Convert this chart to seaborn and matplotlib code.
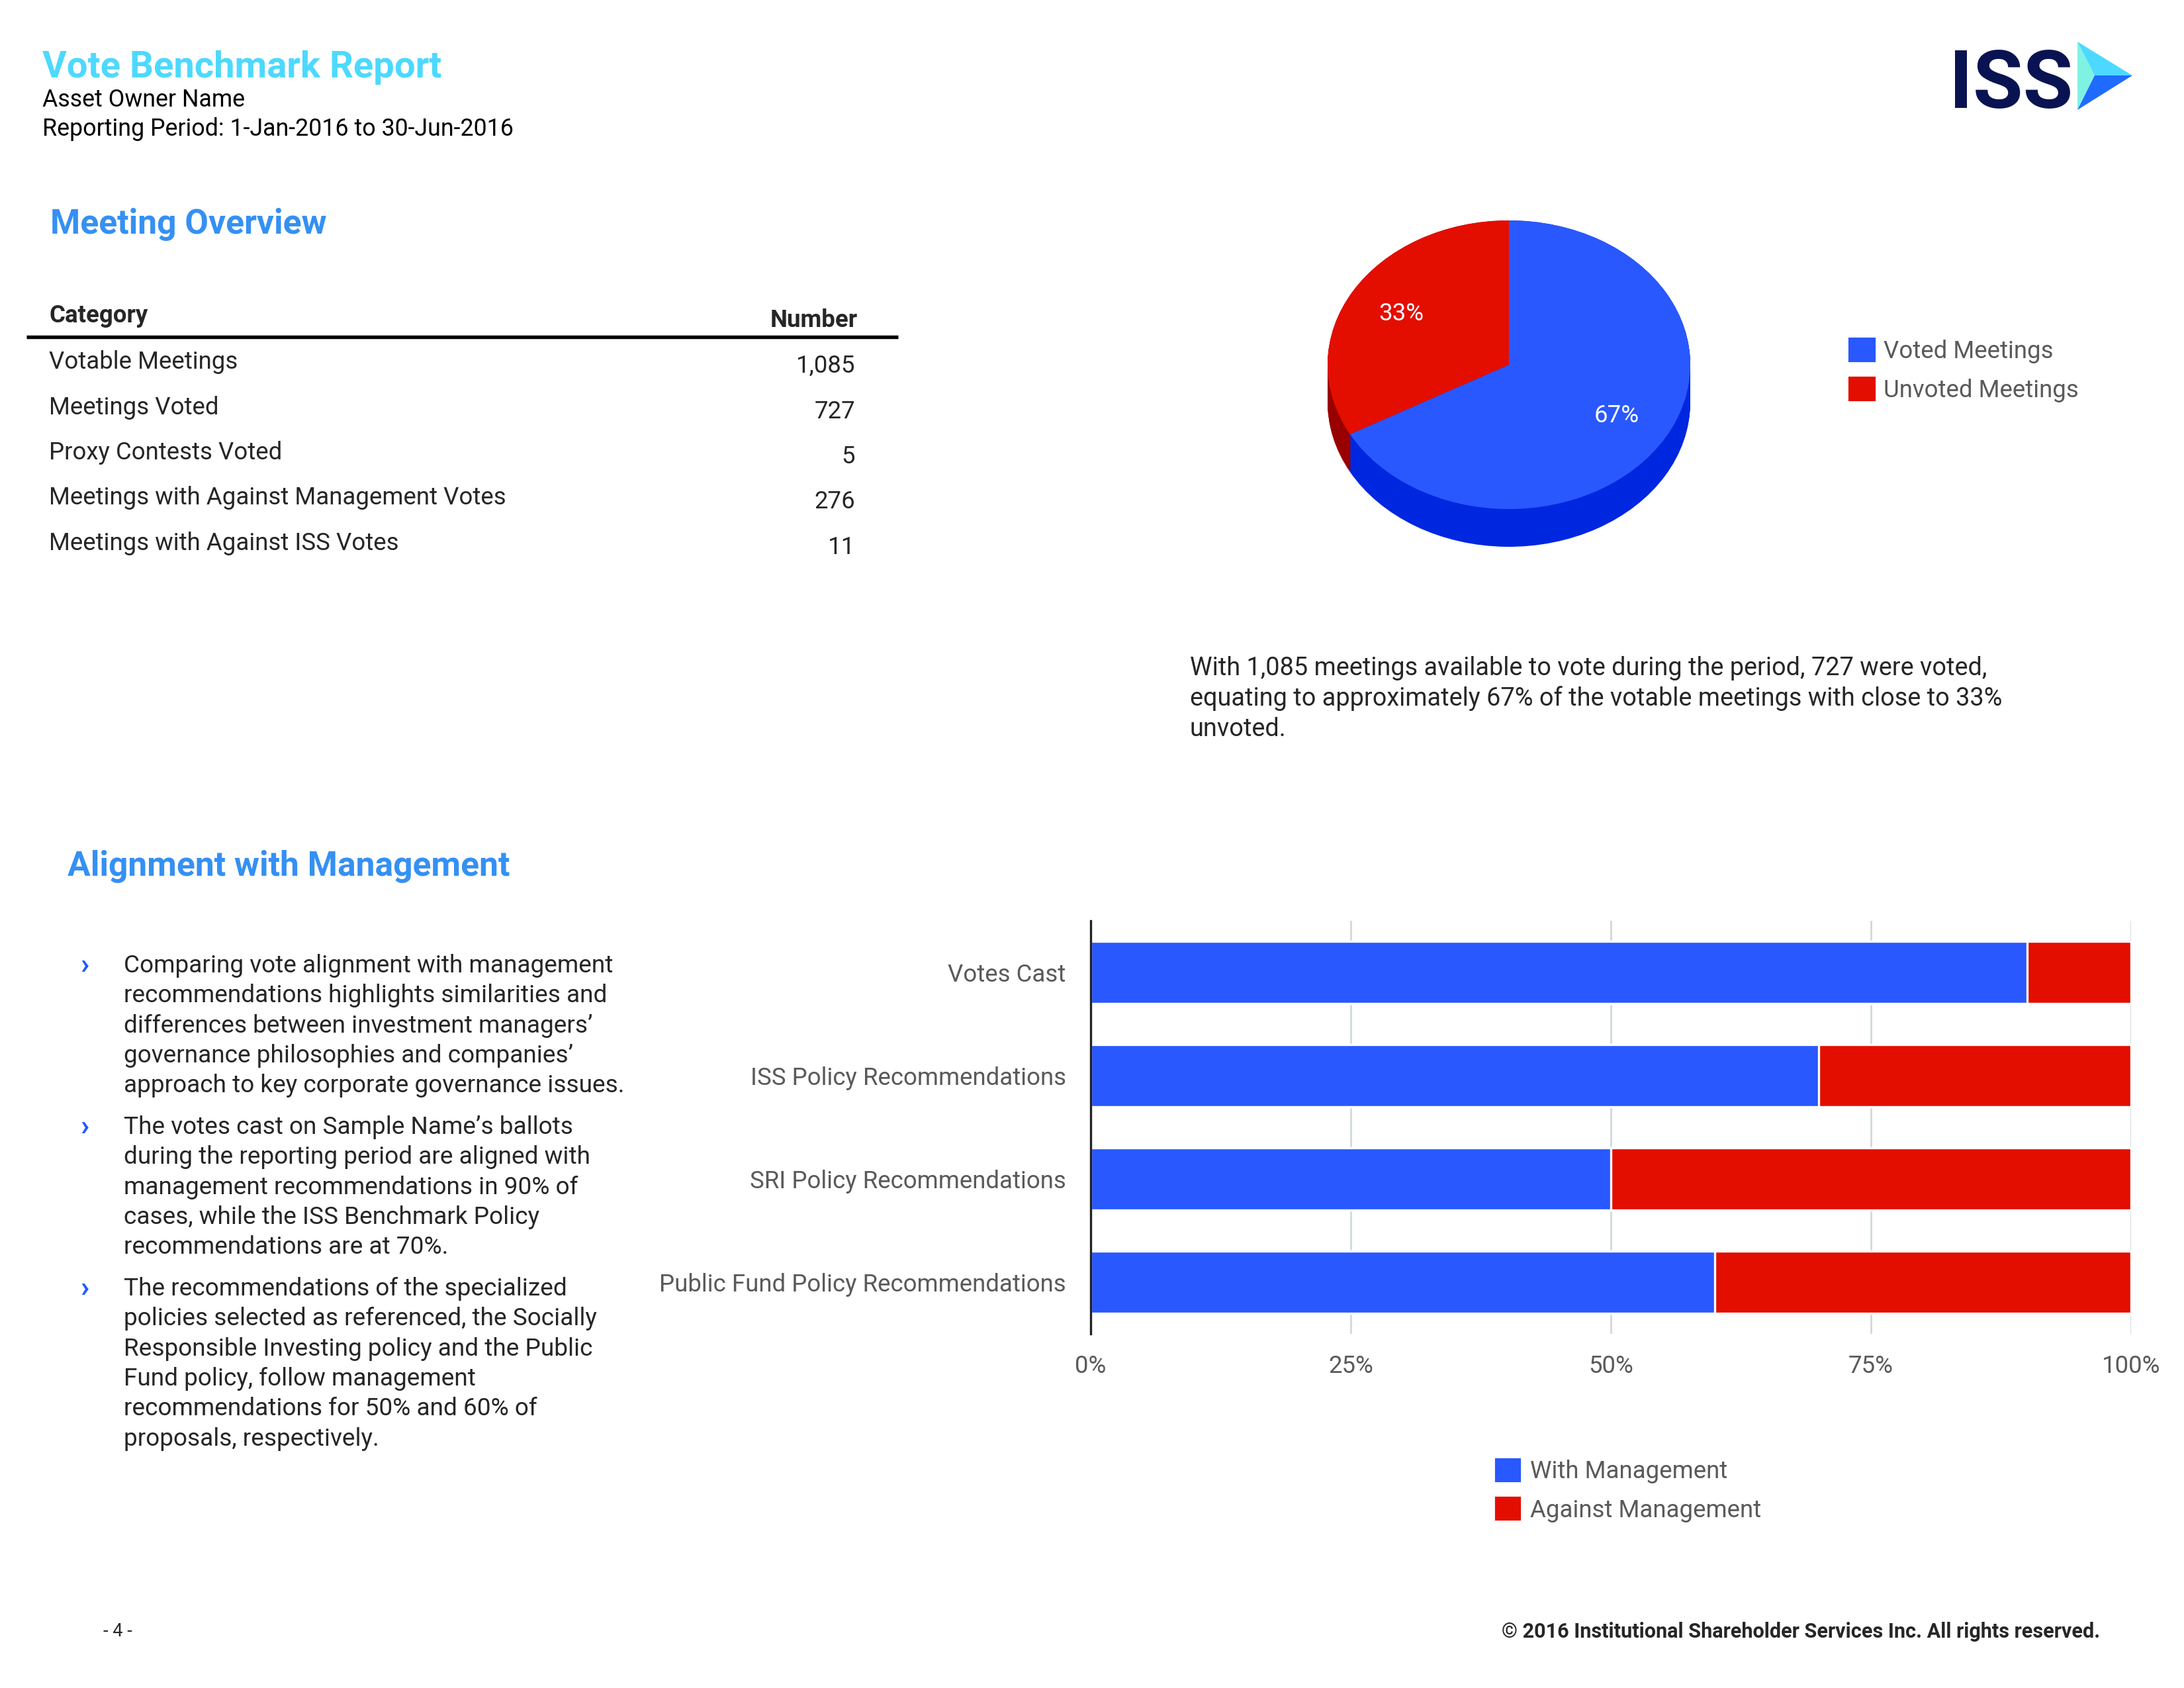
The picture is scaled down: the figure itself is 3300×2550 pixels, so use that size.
import numpy as np
import pandas as pd
import matplotlib
matplotlib.use("Agg")
import matplotlib.pyplot as plt
from matplotlib.patches import Patch, Polygon
import seaborn as sns

# ------------------------------------------------------------
# Data
# ------------------------------------------------------------
table_categories = [
    "Votable Meetings",
    "Meetings Voted",
    "Proxy Contests Voted",
    "Meetings with Against Management Votes",
    "Meetings with Against ISS Votes",
]
table_numbers = [1085, 727, 5, 276, 11]

pie_labels = ["Voted Meetings", "Unvoted Meetings"]
pie_values = [727, 358]

bar_categories = [
    "Votes Cast",
    "ISS Policy Recommendations",
    "SRI Policy Recommendations",
    "Public Fund Policy Recommendations",
]
with_mgmt = [90, 70, 50, 60]
against_mgmt = [10, 30, 50, 40]
bar_series = ["With Management", "Against Management"]
bar_ticks = [0, 25, 50, 75, 100]

summary_lines = [
    "With 1,085 meetings available to vote during the period, 727 were voted,",
    "equating to approximately 67% of the votable meetings with close to 33%",
    "unvoted.",
]

bullets = [
    ["Comparing vote alignment with management",
     "recommendations highlights similarities and",
     "differences between investment managers\u2019",
     "governance philosophies and companies\u2019",
     "approach to key corporate governance issues."],
    ["The votes cast on Sample Name\u2019s ballots",
     "during the reporting period are aligned with",
     "management recommendations in 90% of",
     "cases, while the ISS Benchmark Policy",
     "recommendations are at 70%."],
    ["The recommendations of the specialized",
     "policies selected as referenced, the Socially",
     "Responsible Investing policy and the Public",
     "Fund policy, follow management",
     "recommendations for 50% and 60% of",
     "proposals, respectively."],
]

# ------------------------------------------------------------
# Style
# ------------------------------------------------------------
BLUE = "#2958FF"
RED = "#E30E00"
BLUE_SIDE = "#0027E0"
RED_SIDE = "#990000"
HEAD_BLUE = "#3590F3"
TITLE_CYAN = "#4DD9FF"
GREY_TXT = "#5A5A5A"

sns.set_theme(style="white")
plt.rcParams["font.family"] = ["Roboto", "DejaVu Sans"]

W, H = 3300, 2550
fig = plt.figure(figsize=(11, 8.5), dpi=300)

# background axes in pixel coordinates for page text
bg = fig.add_axes([0, 0, 1, 1])
bg.set_xlim(0, W)
bg.set_ylim(H, 0)
bg.axis("off")


def px_axes(x0, y0, x1, y1):
    return fig.add_axes([x0 / W, 1 - y1 / H, (x1 - x0) / W, (y1 - y0) / H])


# ------------------------------------------------------------
# Header
# ------------------------------------------------------------
bg.text(64, 102, "Vote Benchmark Report", color=TITLE_CYAN, fontsize=13.5,
        fontweight="bold", va="center")
bg.text(64, 151, "Asset Owner Name", fontsize=8.6, va="center", color="black")
bg.text(64, 195, "Reporting Period: 1-Jan-2016 to 30-Jun-2016", fontsize=8.6,
        va="center", color="black")

# ISS logo
bg.text(2945, 163, "ISS", color="#0A1352", fontsize=29.5, fontweight="bold",
        va="baseline", ha="left")
tip, top, bot, inner = (3222, 114), (3139, 63), (3139, 166), (3165, 114)
bg.add_patch(Polygon([top, inner, bot], closed=True, color="#7FF2E3", lw=0))
bg.add_patch(Polygon([top, tip, inner], closed=True, color="#4DD9FF", lw=0))
bg.add_patch(Polygon([inner, tip, bot], closed=True, color="#1F6BFF", lw=0))

# ------------------------------------------------------------
# Meeting overview table
# ------------------------------------------------------------
bg.text(76, 339, "Meeting Overview", color=HEAD_BLUE, fontsize=12.4,
        fontweight="bold", va="center")
bg.text(74, 477, "Category", fontsize=8.8, fontweight="bold", va="center")
bg.text(1296, 484, "Number", fontsize=8.8, fontweight="bold", va="center",
        ha="right")
bg.plot([40, 1357], [509, 509], color="black", lw=1.3, solid_capstyle="butt")
for i, (cat, num) in enumerate(zip(table_categories, table_numbers)):
    y = 547 + i * 68.5
    bg.text(74, y, cat, fontsize=8.8, va="center")
    bg.text(1292, y + 6, f"{num:,}", fontsize=8.8, va="center", ha="right")

# ------------------------------------------------------------
# 3D-looking pie
# ------------------------------------------------------------
cx, cy, rx, ry, depth_px = 2280, 551, 274, 218, 57
pie_ax = px_axes(cx - 320, cy - 260, cx + 320, cy + 320)
depth = depth_px / ry
for k in np.linspace(-depth, 0, 40):
    pie_ax.pie(pie_values, colors=[BLUE_SIDE, RED_SIDE], startangle=90,
               counterclock=False, center=(0, k), radius=1,
               wedgeprops=dict(linewidth=0))
wedges, _, autotexts = pie_ax.pie(
    pie_values, colors=[BLUE, RED], startangle=90, counterclock=False,
    radius=1, autopct="%1.0f%%", pctdistance=0.69,
    wedgeprops=dict(linewidth=0),
    textprops=dict(color="white", fontsize=8.8))
pie_ax.set_aspect("auto")
pie_ax.set_xlim(-320 / rx, 320 / rx)
pie_ax.set_ylim(-320 / ry, 260 / ry)
pie_ax.axis("off")

fig.legend(
    handles=[Patch(color=BLUE), Patch(color=RED)], labels=pie_labels,
    loc="upper left", bbox_to_anchor=(2795 / W, 1 - 512 / H),
    frameon=False, fontsize=8.8, handlelength=1.0, handleheight=1.0,
    handletextpad=0.4, labelspacing=0.6, borderpad=0, borderaxespad=0,
    labelcolor=GREY_TXT)

for i, line in enumerate(summary_lines):
    bg.text(1798, 1010 + i * 45.5, line, fontsize=9.1, va="center")

# ------------------------------------------------------------
# Alignment with management
# ------------------------------------------------------------
bg.text(102, 1309, "Alignment with Management", color=HEAD_BLUE, fontsize=12.4,
        fontweight="bold", va="center")
starts = [1459, 1703, 1947]
for start, lines in zip(starts, bullets):
    bg.text(121, start, "\u203a", color="#1A5CFF", fontsize=10.5,
            fontweight="bold", va="center")
    for j, line in enumerate(lines):
        bg.text(187, start + j * 45.3, line, fontsize=8.9, va="center")

df = pd.DataFrame({
    "category": bar_categories,
    "with": with_mgmt,
    "total": np.add(with_mgmt, against_mgmt),
})

bar_ax = px_axes(1648, 1391, 3220, 2015)
sns.barplot(data=df, x="total", y="category", orient="y", color=RED,
            width=0.6, edgecolor="white", linewidth=0.8, ax=bar_ax,
            saturation=1)
sns.barplot(data=df, x="with", y="category", orient="y", color=BLUE,
            width=0.6, edgecolor="white", linewidth=0.8, ax=bar_ax,
            saturation=1)
bar_ax.set_xlim(0, 100)
bar_ax.set_ylim(3.5, -0.5)
bar_ax.set_xticks(bar_ticks)
bar_ax.set_xticklabels([f"{t}%" for t in bar_ticks])
bar_ax.set_xlabel("")
bar_ax.set_ylabel("")
bar_ax.grid(axis="x", color="#D3DBDB", lw=0.7)
bar_ax.grid(axis="y", visible=False)
bar_ax.set_axisbelow(True)
for s in ["top", "right", "bottom"]:
    bar_ax.spines[s].set_visible(False)
bar_ax.spines["left"].set_color("#222222")
bar_ax.spines["left"].set_linewidth(0.8)
bar_ax.tick_params(axis="x", length=0, pad=7.5, labelsize=8.8,
                   labelcolor=GREY_TXT)
bar_ax.tick_params(axis="y", length=0, pad=9, labelsize=8.8,
                   labelcolor=GREY_TXT)
bar_ax.set_facecolor("none")

fig.legend(
    handles=[Patch(color=BLUE), Patch(color=RED)], labels=bar_series,
    loc="upper left", bbox_to_anchor=(2261 / W, 1 - 2205 / H),
    frameon=False, fontsize=8.8, handlelength=0.95, handleheight=0.95,
    handletextpad=0.45, labelspacing=0.6, borderpad=0, borderaxespad=0,
    labelcolor=GREY_TXT)

# ------------------------------------------------------------
# Footer
# ------------------------------------------------------------
bg.text(178, 2465, "- 4 -", fontsize=6.5, va="center", ha="center")
bg.text(3173, 2465,
        "\u00a9 2016 Institutional Shareholder Services Inc. All rights reserved.",
        fontsize=7.35, fontweight="bold", va="center", ha="right")

fig.savefig("out.png", dpi=300, facecolor="white")
